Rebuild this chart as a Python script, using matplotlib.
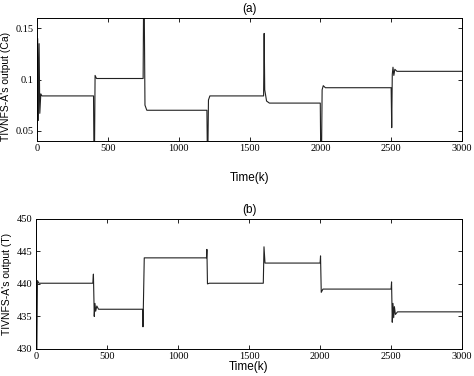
import matplotlib.pyplot as plt

# key points: output Ca
t_ca = [0, 5, 10, 15, 20, 27, 35, 399, 402, 406, 410, 420, 749, 752, 757, 762, 775,
        1199, 1202, 1206, 1210, 1220, 1599, 1603, 1607, 1620, 1640,
        1999, 2002, 2008, 2012, 2020, 2035, 2499, 2503, 2507, 2512, 2518, 2525, 2540, 3000]
ca = [0.045, 0.14, 0.06, 0.135, 0.067, 0.086, 0.084, 0.084, 0.03, 0.03, 0.104, 0.101, 0.101, 0.17, 0.17, 0.075, 0.07,
      0.07, 0.03, 0.03, 0.08, 0.084, 0.084, 0.145, 0.09, 0.079, 0.077,
      0.077, 0.03, 0.03, 0.09, 0.094, 0.092, 0.092, 0.053, 0.105, 0.112, 0.104, 0.11, 0.108, 0.108]

# key points: output T
t_T = [0, 3, 6, 10, 20, 400, 404, 410, 415, 420, 428, 440, 750, 753, 762,
       1200, 1203, 1207, 1220, 1600, 1605, 1612, 2000, 2003, 2008, 2020,
       2500, 2503, 2508, 2513, 2518, 2523, 2530, 2545, 3000]
T = [450, 430, 430, 440.5, 440.1, 440.1, 441.5, 435, 437, 435.8, 436.6, 436.1, 436.1, 433.4, 444,
     444, 445.3, 440, 440.1, 440.1, 445.7, 443.2, 443.2, 444.3, 438.7, 439.2,
     439.2, 440.3, 434.1, 437, 434.8, 436.5, 435.3, 435.7, 435.7]

xticks = [0, 500, 1000, 1500, 2000, 2500, 3000]

sans = 'Liberation Sans'
serif = 'Liberation Serif'

fig = plt.figure(figsize=(4.74, 3.76), dpi=100)
ax1 = fig.add_axes([0.078, 0.625, 0.897, 0.327])
ax2 = fig.add_axes([0.076, 0.072, 0.899, 0.346])

ax1.plot(t_ca, ca, color='#222222', lw=0.8)
ax1.set_xlim(0, 3000)
ax1.set_ylim(0.04, 0.16)
ax1.set_yticks([0.05, 0.1, 0.15])
ax1.set_yticklabels(['0.05', '0.1', '0.15'])
ax1.set_title('(a)', fontsize=8.5, family=sans, pad=4)
ax1.set_xlabel('Time(k)', fontsize=8.5, family=sans, labelpad=13)
ax1.set_ylabel("TIVNFS-A's output (Ca)", fontsize=7.5, family=sans)
ax1.yaxis.set_label_coords(-0.061, 0.44)

ax2.plot(t_T, T, color='#222222', lw=0.8)
ax2.set_xlim(0, 3000)
ax2.set_ylim(430, 450)
ax2.set_yticks([430, 435, 440, 445, 450])
ax2.set_title('(b)', fontsize=8.5, family=sans, pad=4)
ax2.set_xlabel('Time(k)', fontsize=8.5, family=sans, labelpad=0)
ax2.set_ylabel("TIVNFS-A's output (T)", fontsize=7.5, family=sans)
ax2.yaxis.set_label_coords(-0.057, 0.5)

for ax in (ax1, ax2):
    ax.set_xticks(xticks)
    ax.tick_params(direction='in', top=True, right=True, length=3, width=0.6, pad=2.5, labelsize=7.5)
    for lab in ax.get_xticklabels() + ax.get_yticklabels():
        lab.set_family(serif)
    for s in ax.spines.values():
        s.set_linewidth(0.7)

fig.savefig('out.png', dpi=100)
